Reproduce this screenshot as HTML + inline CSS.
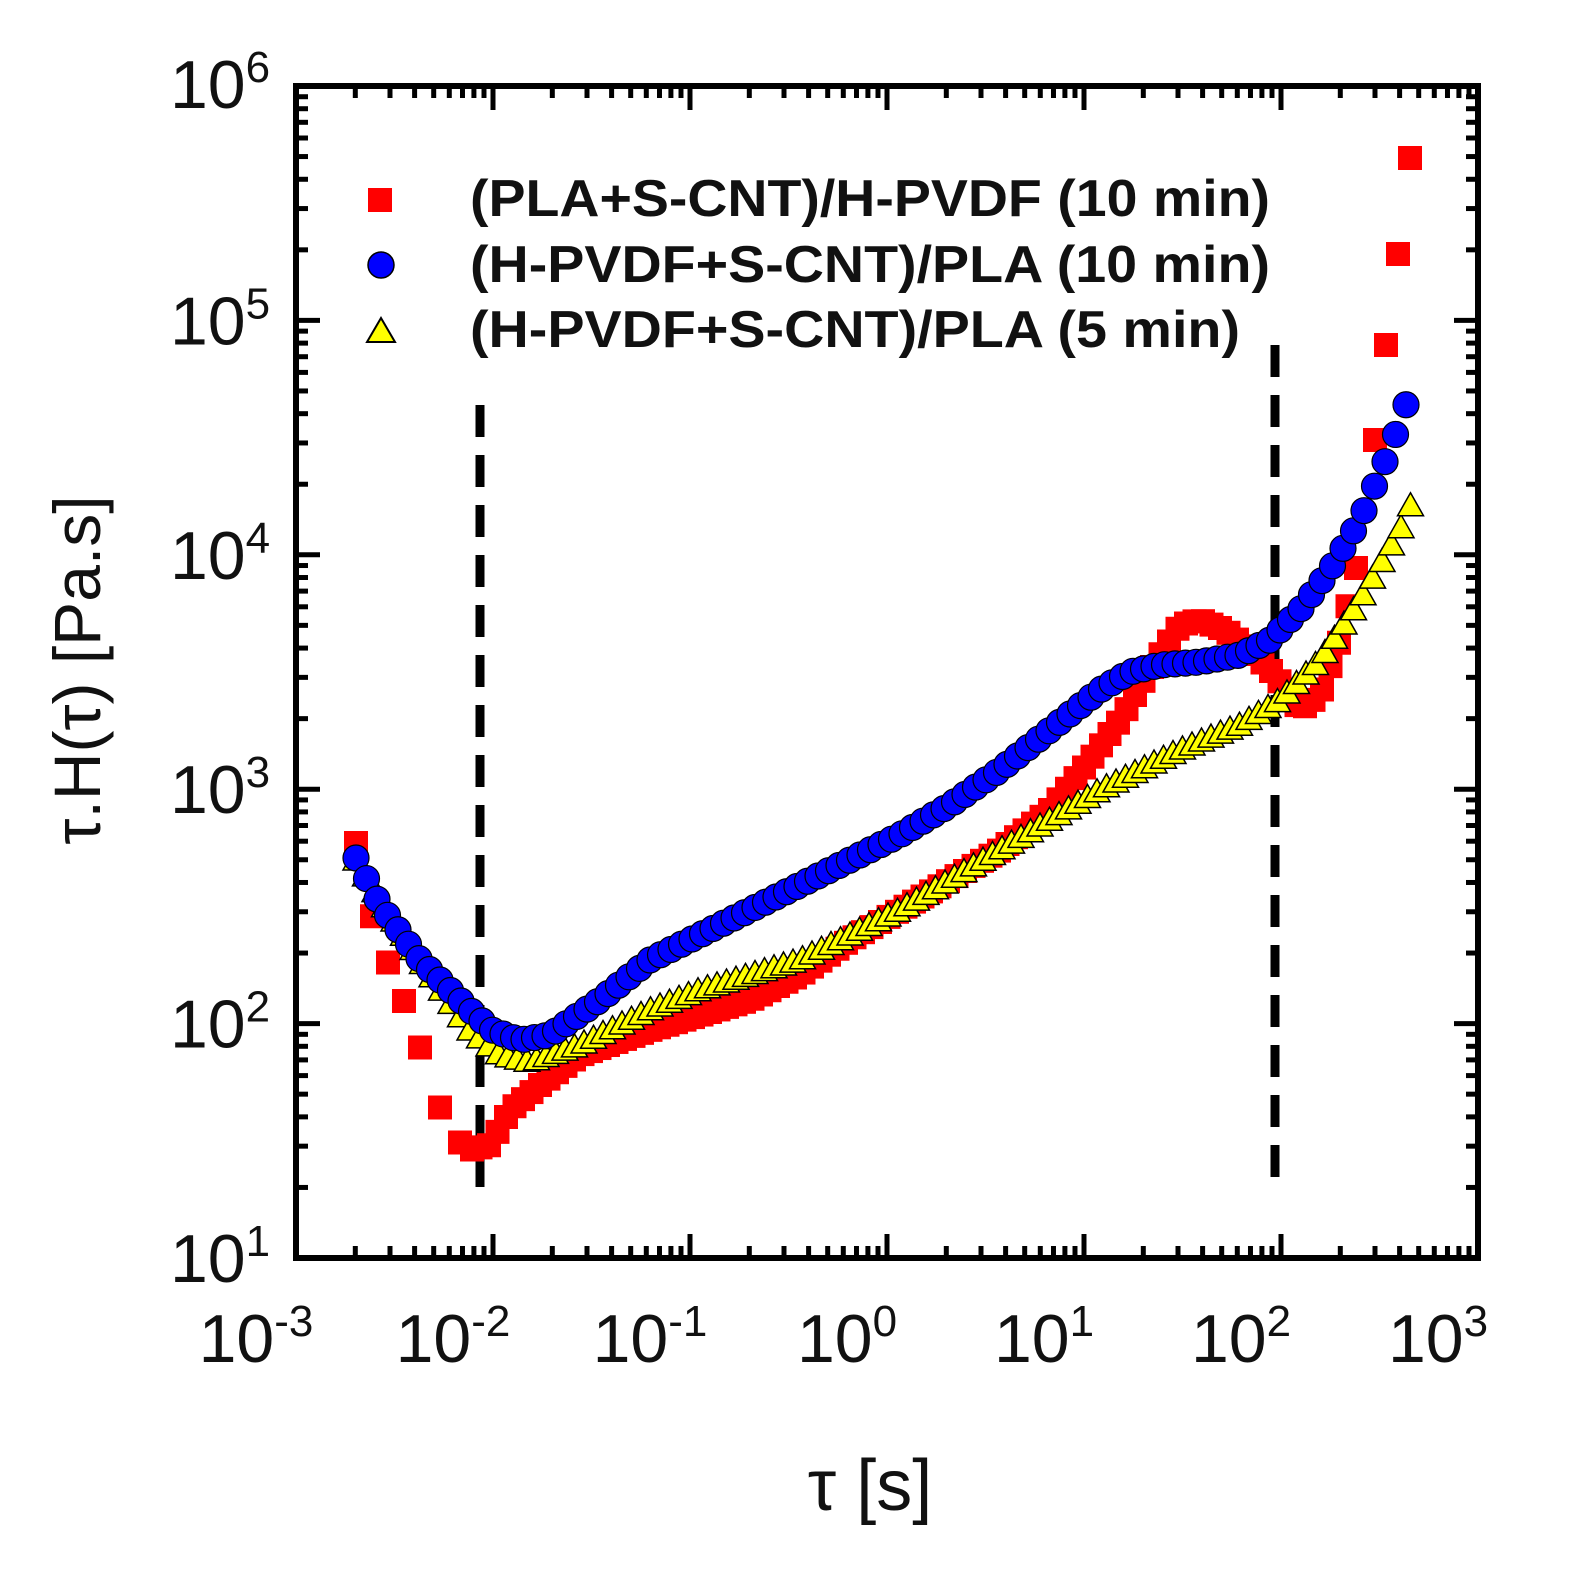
<!DOCTYPE html>
<html><head><meta charset="utf-8"><style>
html,body{margin:0;padding:0;background:#fff;}
svg{display:block;}
text{font-family:"Liberation Sans",Arial,sans-serif;fill:#111;}
</style></head><body>
<svg id="s" width="1569" height="1580" viewBox="0 0 1569 1580" xmlns="http://www.w3.org/2000/svg">
<rect width="1569" height="1580" fill="#fff"/>
<g id="ticks" stroke="#000" stroke-width="5"></g>
<rect x="296" y="86" width="1182" height="1172" fill="none" stroke="#000" stroke-width="6"/>
<g id="labels" font-size="68"></g>
<line x1="480" y1="405" x2="480" y2="1192" stroke="#000" stroke-width="9" stroke-dasharray="32,18"/>
<line x1="1275" y1="345" x2="1275" y2="1182" stroke="#000" stroke-width="9" stroke-dasharray="32,18"/>
<g id="data"></g>
<g font-weight="bold" font-size="41" fill="#222">
<rect x="368" y="188" width="24" height="24" fill="#f00"/>
<text x="470" y="216" textLength="800" lengthAdjust="spacingAndGlyphs" font-size="52">(PLA+S-CNT)/H-PVDF (10 min)</text>
<circle cx="381" cy="265" r="13" fill="#00f" stroke="#000" stroke-width="1.5"/>
<text x="470" y="282" textLength="800" lengthAdjust="spacingAndGlyphs" font-size="52">(H-PVDF+S-CNT)/PLA (10 min)</text>
<polygon points="381,318 395,342 367,342" fill="#ff0" stroke="#000" stroke-width="2"/>
<text x="470" y="347" textLength="770" lengthAdjust="spacingAndGlyphs" font-size="52">(H-PVDF+S-CNT)/PLA (5 min)</text>
</g>
<text x="870" y="1510" font-size="72" text-anchor="middle">τ [s]</text>
<text transform="translate(100,670) rotate(-90)" font-size="66" text-anchor="middle" font-family="Liberation Serif,serif">τ.H(τ) [Pa.s]</text>
</svg>
<script>
const NS="http://www.w3.org/2000/svg";
function el(p,t,a,txt){const e=document.createElementNS(NS,t);for(const k in a)e.setAttribute(k,a[k]);if(txt!==undefined)e.textContent=txt;p.appendChild(e);return e;}
const L=296,R=1478,T=86,B=1258;
const dx=(R-L)/6, dy=(B-T)/5;
const tk=document.getElementById('ticks');
for(let d=0;d<6;d++){for(let m=1;m<10;m++){const x=L+dx*(d+Math.log10(m));const len=m==1?24:12;
 el(tk,'line',{x1:x,y1:B,x2:x,y2:B-len});el(tk,'line',{x1:x,y1:T,x2:x,y2:T+len});}}
for(let d=0;d<5;d++){for(let m=1;m<10;m++){const y=B-dy*(d+Math.log10(m));const len=m==1?24:12;
 el(tk,'line',{x1:L,y1:y,x2:L+len,y2:y});el(tk,'line',{x1:R,y1:y,x2:R-len,y2:y});}}
const lb=document.getElementById('labels');
for(let d=0;d<=6;d++){const x=L+dx*d;const t=el(lb,'text',{x:x-40,y:1362,'text-anchor':'middle'});
 t.textContent='10';el(t,'tspan',{dy:-26,'font-size':44},''+(d-3));}
for(let d=0;d<=5;d++){const y=B-dy*d;const t=el(lb,'text',{x:220,y:y+24+(d==5?-2:0),'text-anchor':'middle'});
 t.textContent='10';el(t,'tspan',{dy:-26,'font-size':44},''+(d+1));}
function interp(pts,x){for(let i=0;i<pts.length-1;i++){if(x>=pts[i][0]&&x<=pts[i+1][0]){const f=(x-pts[i][0])/(pts[i+1][0]-pts[i][0]);return pts[i][1]+f*(pts[i+1][1]-pts[i][1]);}}return null;}
const blue=[[356,858],[380,905],[420,960],[470,1010],[492,1030],[520,1040],[550,1035],[600,1000],[650,960],[700,935],[750,910],[800,885],[850,860],[900,835],[950,805],[1000,770],[1050,730],[1100,690],[1130,672],[1160,665],[1200,662],[1240,655],[1270,640],[1300,610],[1330,570],[1360,520],[1390,450],[1413,385]];
const yel=[[356,860],[380,900],[420,960],[470,1030],[500,1055],[530,1062],[580,1045],[650,1010],[700,990],[800,960],[900,910],[1000,850],[1100,790],[1180,750],[1240,725],[1280,700],[1320,660],[1360,600],[1400,530],[1413,500]];
const red=[[356,843],[375,930],[395,980],[410,1015],[430,1080],[450,1135],[470,1150],[490,1145],[510,1110],[540,1085],[580,1055],[650,1030],[700,1015],[750,1000],[800,975],[850,940],[900,910],[950,880],[1000,850],[1050,810],[1090,760],[1120,720],[1150,670],[1180,625],[1200,620],[1225,630],[1250,650],[1275,675],[1300,710],[1320,695],[1340,640],[1360,550]];
const g=document.getElementById('data');
function xs(step){const a=[];for(let x=356;x<=1413.5;x+=step)a.push(x);return a;}
const rx=[356,372,388,404,420,440,460];for(let x=472;x<=1360;x+=8.5)rx.push(x);
rx.forEach(x=>{const y=interp(red,x);if(y!==null)el(g,'rect',{x:x-12,y:y-12,width:24,height:24,fill:'#f00'});});
[[1375,440],[1386,345],[1398,254],[1410,158]].forEach(p=>el(g,'rect',{x:p[0]-12,y:p[1]-12,width:24,height:24,fill:'#f00'}));
xs(9.5).forEach(x=>{const y=interp(yel,x);if(y===null)return;el(g,'polygon',{points:`${x},${y-13} ${x+13},${y+10} ${x-13},${y+10}`,fill:'#ff0',stroke:'#000','stroke-width':1.5});});
xs(10.5).forEach(x=>{const y=interp(blue,x);if(y===null)return;el(g,'circle',{cx:x,cy:y,r:13,fill:'#00f',stroke:'#000','stroke-width':1.2});});
</script>
</body></html>
